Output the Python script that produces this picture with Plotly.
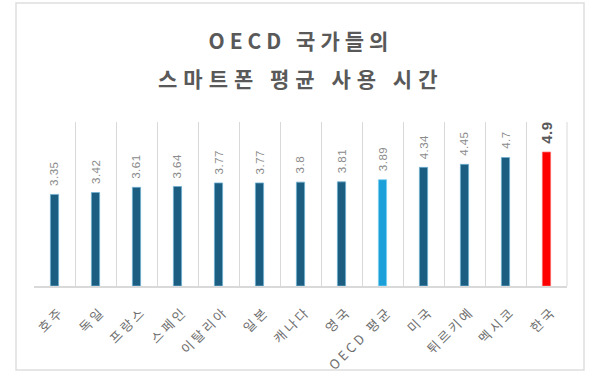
import plotly.graph_objects as go

categories = ["호주", "독일", "프랑스", "스페인", "이탈리아", "일본", "캐나다", "영국",
              "OECD 평균", "미국", "튀르키예", "멕시코", "한국"]
values = [3.35, 3.42, 3.61, 3.64, 3.77, 3.77, 3.8, 3.81, 3.89, 4.34, 4.45, 4.7, 4.9]
value_labels = ["3.35", "3.42", "3.61", "3.64", "3.77", "3.77", "3.8", "3.81", "3.89",
                "4.34", "4.45", "4.7", "4.9"]
title_line1 = "OECD 국가들의"
title_line2 = "스마트폰 평균 사용 시간"

DARK = "#1B5E81"
AVG = "#1CA0DA"
KOR = "#FF0000"
bar_colors = [KOR if c == "한국" else AVG if c == "OECD 평균" else DARK for c in categories]
line_colors = ["#ff6666" if c == "한국" else "#7fd0f0" if c == "OECD 평균" else "#6fb0d0" for c in categories]

fig = go.Figure(go.Bar(
    x=categories, y=values, width=0.2,
    marker=dict(color=bar_colors, line=dict(color=line_colors, width=0.8)),
    hoverinfo="skip",
))

L, R, T, B = 34, 33, 122, 100
W, H = 600, 386
pw, ph = W - L - R, H - T - B

def px(x):
    return (x - L) / pw

def py(y):
    return (H - B - y) / ph

annotations = []
for c, v, t in zip(categories, values, value_labels):
    kor = c == "한국"
    annotations.append(dict(
        x=c, y=v, xref="x", yref="y", text="<b>%s</b>" % t if kor else t,
        textangle=-90, showarrow=False, xanchor="center", yanchor="bottom", yshift=7,
        font=dict(size=15 if kor else 11.5, color="#595959" if kor else "#8a8a8a",
                  family="Liberation Sans, Arial"),
    ))

annotations += [
    dict(text="<b>%s</b>" % title_line1, xref="paper", yref="paper", x=0.5,
         y=py(40), xanchor="center", yanchor="middle", showarrow=False,
         font=dict(size=21, color="#595959", family="Noto Sans CJK KR")),
    dict(text="<b>%s</b>" % title_line2, xref="paper", yref="paper", x=0.5,
         y=py(78), xanchor="center", yanchor="middle", showarrow=False,
         font=dict(size=21, color="#595959", family="Noto Sans CJK KR")),
]

fig.update_layout(
    width=W, height=H,
    margin=dict(l=L, r=R, t=T, b=B, autoexpand=False),
    paper_bgcolor="white", plot_bgcolor="white",
    showlegend=False,
    font=dict(family="Noto Sans CJK KR", color="#595959"),
    xaxis=dict(
        type="category", tickson="boundaries", showgrid=True, gridcolor="#d9d9d9",
        gridwidth=1, showline=True, linecolor="#d9d9d9", linewidth=1.5, ticks="",
        tickangle=-45, tickfont=dict(size=13, color="#6e6e6e", family="Noto Sans CJK KR"),
        automargin=False, ticklabelstandoff=11, ticklabelshift=6,
    ),
    yaxis=dict(range=[0, 6], visible=False, showgrid=False, zeroline=False),
    annotations=annotations,
    shapes=[
        dict(type="rect", xref="paper", yref="paper", x0=px(16), x1=px(584),
             y0=py(370), y1=py(3), line=dict(color="#dedede", width=1.5), layer="below"),
        dict(type="line", xref="paper", yref="paper", x0=1, x1=1, y0=0, y1=1,
             line=dict(color="#d9d9d9", width=1)),
    ],
)

post = """
document.body.style.margin = '0';
var ann = document.querySelectorAll('.annotation-text');
ann.forEach(function(t){
  var s = t.textContent;
  if (s.indexOf('OECD') === 0) t.setAttribute('letter-spacing','5px');
  else if (s.indexOf('스마트폰') === 0) t.setAttribute('letter-spacing','6px');
  else t.setAttribute('letter-spacing','0.5px');
});
document.querySelectorAll('.xtick text').forEach(function(t){ t.setAttribute('letter-spacing','3px'); });
"""
fig.write_html("out.html", post_script=post, config={"displayModeBar": False})
